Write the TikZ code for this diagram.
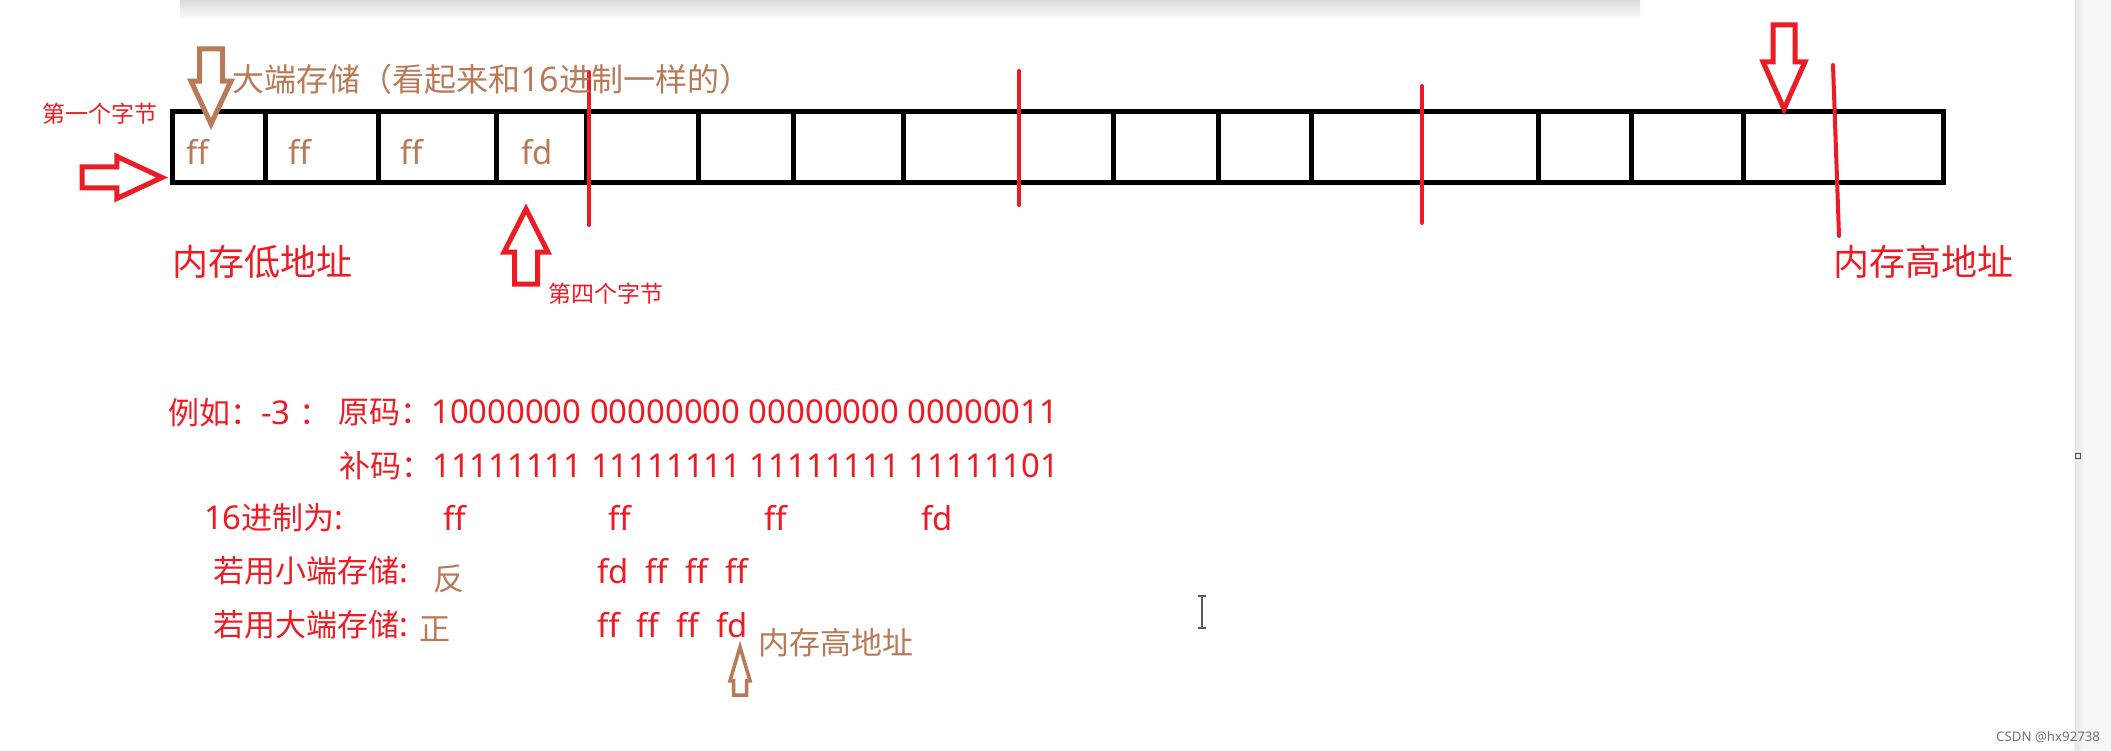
\documentclass[tikz,border=0pt]{standalone}
\usepackage{fontspec}
\setmainfont{Noto Sans}[Scale=1.06]
\newfontfamily\cjk{Noto Sans CJK SC}
\usetikzlibrary{positioning}
\usetikzlibrary{shapes.arrows}
\definecolor{paintred}{RGB}{237,28,36}
\definecolor{paintbrown}{RGB}{185,122,87}

\begin{document}
\begin{tikzpicture}[x=1pt, y=-1pt,
    lbl/.style={inner sep=0pt, anchor=west},
    bigcn/.style={lbl, text=paintred, font=\cjk\fontsize{36}{40}\selectfont},
    smallcn/.style={lbl, text=paintred, font=\cjk\fontsize{23}{26}\selectfont},
    row/.style={lbl, text=paintred, font=\fontsize{31}{36}\selectfont},
    brownrow/.style={row, text=paintbrown},
    redarrow/.style={single arrow, draw=paintred, fill=white, line width=5pt, inner xsep=0pt, outer sep=0pt},
    brownarrow/.style={single arrow, draw=paintbrown, fill=white, line width=5pt, inner xsep=0pt, outer sep=0pt},
    sepline/.style={paintred, line width=4pt, line cap=round}]
    \useasboundingbox (0,0) rectangle (2111,751);
    \fill[white] (0,0) rectangle (2111,751);

    % window edges
    \shade[top color=black!14, bottom color=white] (180,0) rectangle (1640,20);
    \fill[black!3] (2075,0) rectangle (2111,751);
    \shade[left color=black!10, right color=black!3] (2075,0) rectangle (2084,751);
    \draw[black!70, line width=1pt] (2075,453) rectangle (2080,458);

    % memory strip
    \draw[line width=5pt] (172,112) rectangle (1943,183);
    \draw[line width=5pt] (265,112) -- (265,183) (378,112) -- (378,183)
        (496,112) -- (496,183) (586,112) -- (586,183) (698,112) -- (698,183)
        (793,112) -- (793,183) (903,112) -- (903,183) (1113,112) -- (1113,183)
        (1218,112) -- (1218,183) (1311,112) -- (1311,183) (1538,112) -- (1538,183)
        (1631,112) -- (1631,183) (1743,112) -- (1743,183);

    % 4-byte borders
    \draw[sepline] (589,72) -- (589,225);
    \draw[sepline] (1019,71) -- (1019,205);
    \draw[sepline] (1422,86) -- (1422,223);
    \draw[sepline] (1833,65) -- (1839,236);

    \node[brownrow] (b1) at (186,152) {ff};
    \node[brownrow] (b2) at (288,152) {ff};
    \node[brownrow] (b3) at (400,152) {ff};
    \node[brownrow] (b4) at (521,152) {fd};

    \node[brownarrow, rotate=-90, anchor=tip, minimum height=75pt, inner ysep=9pt,
        single arrow head extend=8.5pt, single arrow tip angle=50] (bigarr) at (211,124) {};
    \node[brownrow, font=\fontsize{32}{36}\selectfont] (bigtxt) at (232,79) {{\cjk 大端存储（看起来和}16{\cjk 进制一样的）}};

    \node[redarrow, anchor=tip, minimum height=80pt, inner ysep=8pt,
        single arrow head extend=10.5pt, single arrow tip angle=50] (firstarr) at (162,177.5) {};
    \node[smallcn] (first) at (42,114) {第一个字节};

    \node[redarrow, rotate=90, anchor=tip, minimum height=75pt, inner ysep=9pt,
        single arrow head extend=10.5pt, single arrow tip angle=54] (fourarr) at (526,209) {};
    \node[smallcn] (fourth) at (548,294) {第四个字节};

    \node[redarrow, rotate=-90, anchor=tip, minimum height=84pt, inner ysep=8.5pt,
        single arrow head extend=10pt, single arrow tip angle=48] (lastarr) at (1784,109) {};

    \node[bigcn] (low) at (172,262) {内存低地址};
    \node[bigcn] (high) at (1833,262) {内存高地址};

    % example -3
    \node[row] (eg) at (168,413) {{\cjk 例如：}-3 {\cjk ：}};
    \node[row] (orig) at (338,413) {{\cjk 原码：}10000000 00000000 00000000 00000011};
    \node[row] (comp) at (339,466) {{\cjk 补码：}11111111 11111111 11111111 11111101};
    \node[row] (hex) at (204,518) {16{\cjk 进制为}:};
    \node[row] (h1) at (443,518) {ff};
    \node[row] (h2) at (608,518) {ff};
    \node[row] (h3) at (764,518) {ff};
    \node[row] (h4) at (921,518) {fd};
    \node[row] (little) at (213,571) {{\cjk 若用小端存储}:};
    \node[brownrow] (fan) at (433,579) {{\cjk 反}};
    \node[row] (littlebytes) at (597,571) {fd~~ff~~ff~~ff};
    \node[row] (big) at (213,625) {{\cjk 若用大端存储}:};
    \node[brownrow] (zheng) at (419,629) {{\cjk 正}};
    \node[row] (bigbytes) at (597,625) {ff~~ff~~ff~~fd};

    \node[brownarrow, rotate=90, anchor=tip, minimum height=48pt, inner ysep=4.75pt,
        line width=3.5pt, single arrow head extend=3.5pt, single arrow tip angle=33] (hiarr) at (740,647) {};
    \node[brownrow] (hightxt) at (758,643) {{\cjk 内存高地址}};

    % cursor and watermark
    \draw[black!65, line width=1.5pt] (1202,596) -- (1202,628)
        (1198,596) -- (1206,596) (1198,628) -- (1206,628);
    \node[lbl, text=black!55, font=\fontsize{12.5}{14}\selectfont] (mark) at (1996,737) {CSDN @hx92738};
\end{tikzpicture}
\end{document}
